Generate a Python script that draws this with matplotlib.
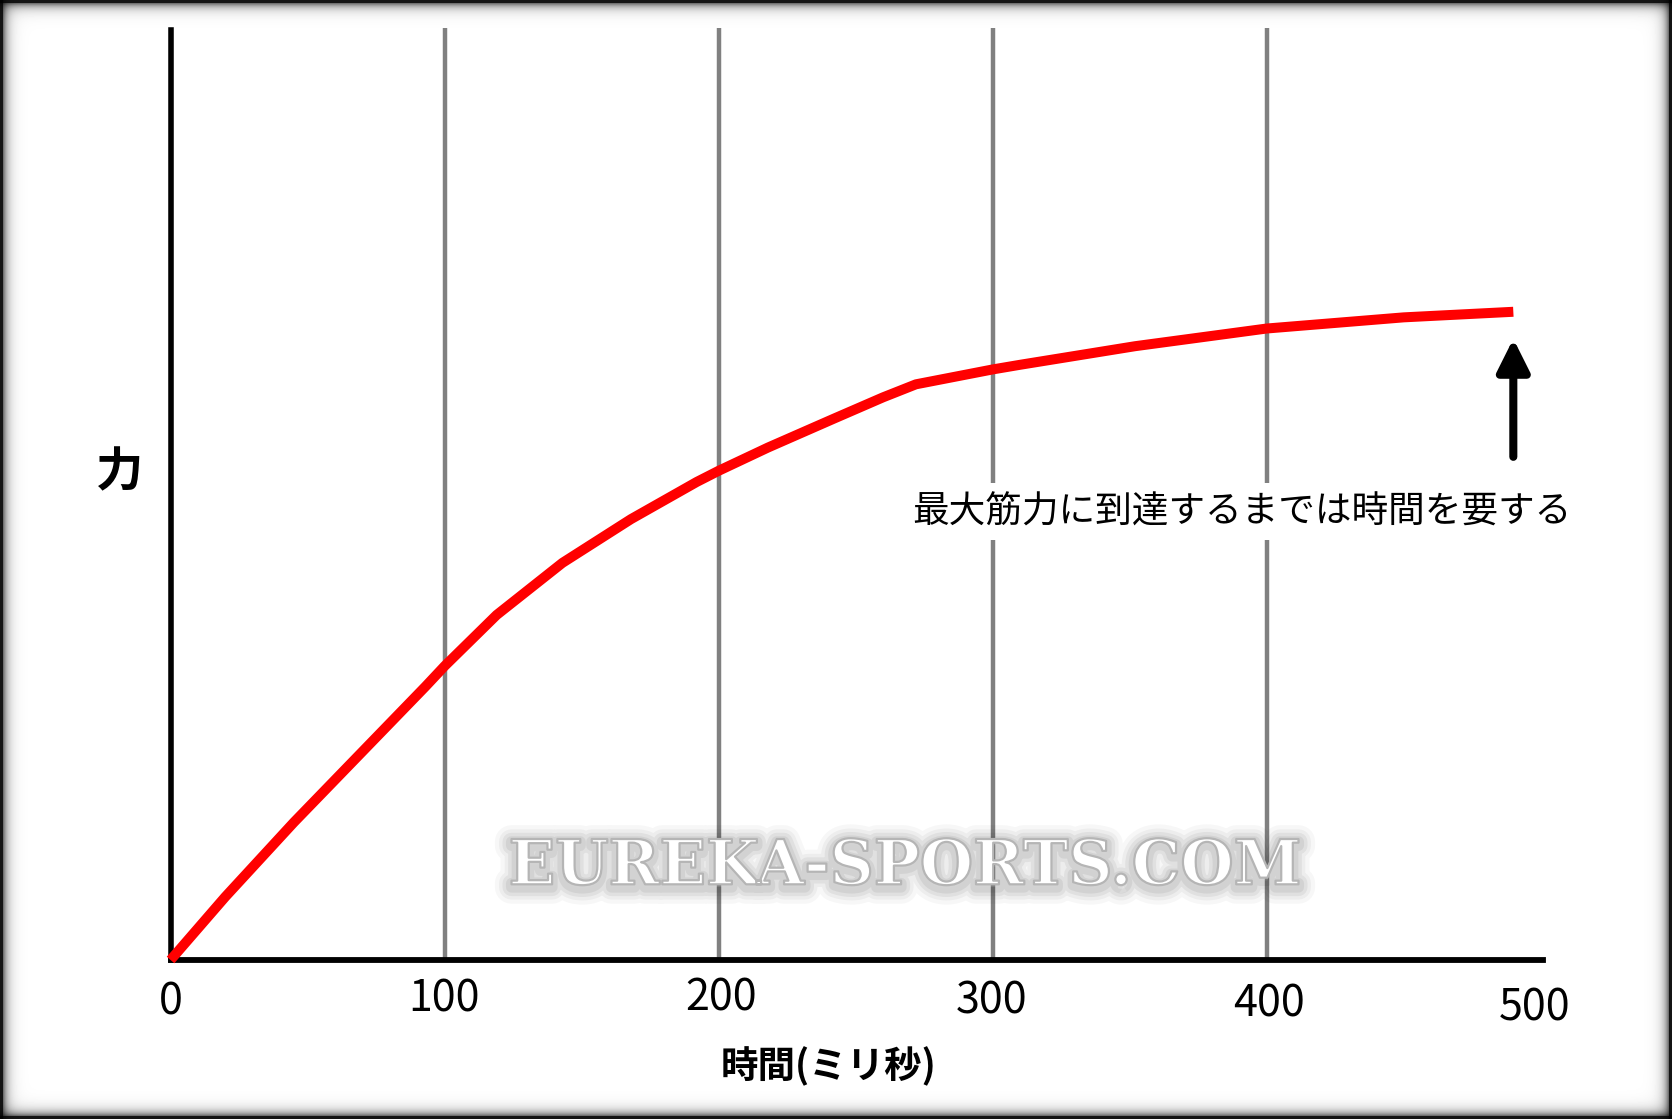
"""Force-time curve: time needed to reach maximum strength."""
import matplotlib
matplotlib.use('Agg')
from matplotlib import pyplot as plt
from matplotlib import patheffects as pe
from matplotlib.transforms import offset_copy, Affine2D, IdentityTransform
from matplotlib.textpath import TextPath
from matplotlib.patches import PathPatch
from matplotlib.font_manager import FontProperties
import numpy as np

plt.rcParams['font.family'] = ['Noto Sans CJK JP', 'DejaVu Sans']

# data (force in % of axis height)
time_ms = [0, 20, 45, 69, 93, 100, 119, 143, 168, 192, 200, 218, 242, 260, 272,
           300, 310, 352, 400, 450, 490]
force = [0, 6.8, 14.8, 22.1, 29.4, 31.6, 37.1, 42.7, 47.4, 51.4, 52.6, 55.1, 58.2,
         60.5, 61.9, 63.5, 64.0, 66.0, 67.9, 69.1, 69.7]
grid_ticks = [100, 200, 300, 400]
tick_vals = [0, 100, 200, 300, 400, 500]
tick_labels = ['0', '100', '200', '300', '400', '500']
arrow_t = 490
arrow_from, arrow_to = 54.1, 66.8
note = '最大筋力に到達するまでは時間を要する'
xlabel = '時間(ミリ秒)'
ylabel = '力'
watermark = 'EUREKA-SPORTS.COM'

W, H = 1672, 1119
fig = plt.figure(figsize=(W / 100, H / 100), dpi=100)

# ---- frame with inner shadow ----
bg = fig.add_axes([0, 0, 1, 1], zorder=-10)
xx = np.arange(W)[None, :].astype(float)
yy = np.arange(H)[:, None].astype(float)
def edge(d):
    return np.where(d < 2.5, 0.08, 1 - 0.62 * np.exp(-(d - 2.5) / 5.0))
shade = edge(xx) * edge(W - 1 - xx) * edge(yy) * edge(H - 1 - yy)
bg.imshow(shade, cmap='gray', vmin=0, vmax=1, aspect='auto', interpolation='nearest')
bg.axis('off')

# ---- watermark (condensed slab serif, white with grey glow) ----
wm = TextPath((0, 0), watermark, size=1,
              prop=FontProperties(family='DejaVu Serif', weight='bold'))
ext = wm.get_extents()
wm_tr = (Affine2D().translate(-(ext.x0 + ext.width / 2), -(ext.y0 + ext.height / 2))
         .scale(787 / ext.width, 47 / ext.height).translate(905, H - 861.7))
glow = [pe.Stroke(linewidth=w, foreground='#000000', alpha=a, offset=(0, -2),
                  joinstyle='round', capstyle='round')
        for w, a in [(24, 0.03), (18, 0.04), (13, 0.05), (8, 0.06)]]
fig.add_artist(PathPatch(wm, transform=wm_tr + IdentityTransform(), fc='white',
                         ec='#b5b5b5', lw=1.6, joinstyle='round', zorder=0.5,
                         path_effects=glow + [pe.Normal()]))

# ---- main axes ----
ax = fig.add_axes([0.1020, 0.1421, 0.8208, 0.8311])
ax.patch.set_alpha(0)
ax.set_xlim(0, 500.8)
ax.set_ylim(0, 100)
for s in ['top', 'right']:
    ax.spines[s].set_visible(False)
ax.spines['left'].set_linewidth(4.0)
ax.spines['bottom'].set_linewidth(4.2)
ax.set_xticks([]); ax.set_yticks([])

ax.vlines(grid_ticks, 0, 100.2, colors='#808080', lw=3.2, zorder=1, clip_on=False)

ax.plot(time_ms, force, color='#ff0000', lw=7.2, solid_joinstyle='round',
        solid_capstyle='butt', zorder=3, clip_on=False)

ax.annotate('', xy=(arrow_t, arrow_to), xytext=(arrow_t, arrow_from),
            arrowprops=dict(arrowstyle='-|>,head_length=0.4,head_width=0.2',
                            mutation_scale=48.6, lw=5.8, color='black',
                            shrinkA=0, shrinkB=0), zorder=4)

ax.text(391, 48.2, note, ha='center', va='center', fontsize=26.4, zorder=5,
        bbox=dict(fc='white', ec='none', boxstyle='square,pad=0.25'))

# tick labels, slightly staggered like the original
dx_px = [0, -1, 2, -1, 2, -6]
dy_px = [55, 51.7, 50.7, 53.3, 56.7, 60.7]
for v, lbl, dx, dy in zip(tick_vals, tick_labels, dx_px, dy_px):
    tr = offset_copy(ax.transData, fig=fig, x=dx, y=-dy, units='dots')
    ax.text(v, 0, lbl, transform=tr, ha='center', va='baseline', fontsize=31,
            clip_on=False)

ax.text(240.2, 0, xlabel, ha='center', va='center', fontsize=27, fontweight='bold',
        transform=offset_copy(ax.transData, fig=fig, y=-106, units='dots'))
ax.text(-18.6, 52.4, ylabel, ha='center', va='center', fontsize=34,
        fontweight='bold', clip_on=False)

plt.savefig('out.png', dpi=100)
